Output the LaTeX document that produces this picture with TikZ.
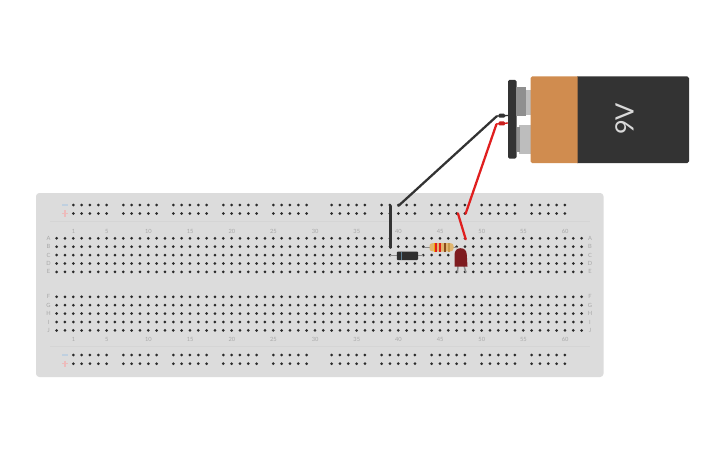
\documentclass[tikz,border=0pt]{standalone}
\usepackage{fontspec}
\setmainfont{Lato}
\definecolor{board}{HTML}{DCDCDC}
\definecolor{sepline}{HTML}{D5D5D5}
\definecolor{hole}{HTML}{2A2A2A}
\definecolor{lab}{HTML}{A8A8A8}
\definecolor{wireblk}{HTML}{333333}
\definecolor{wirered}{HTML}{E01F1F}
\definecolor{batt}{HTML}{333333}
\definecolor{orangeb}{HTML}{D08C4F}
\definecolor{termlight}{HTML}{BDBDBD}
\definecolor{termdark}{HTML}{8F8F8F}
\definecolor{clipred}{HTML}{C9201F}
\definecolor{leadgray}{HTML}{8E8E8E}
\definecolor{diodebody}{HTML}{2F2F2F}
\definecolor{diodeband}{HTML}{5F7F93}
\definecolor{resbody}{HTML}{E0B56F}
\definecolor{resgold}{HTML}{F0A800}
\definecolor{resred}{HTML}{E3201B}
\definecolor{resbrown}{HTML}{8A4B1D}
\definecolor{restan}{HTML}{C89A4D}
\definecolor{ledred}{HTML}{7E1B1F}
\definecolor{railminus}{HTML}{BFD0E0}
\definecolor{railplus}{HTML}{EDBBBB}
\tikzset{
  holept/.style={fill=hole,draw=none},
  lbl/.style={text=lab,font=\fontsize{4.3}{5}\selectfont,inner sep=0pt},
  wirek/.style={draw=wireblk,line width=1.7pt,line cap=round},
  wirer/.style={draw=wirered,line width=1.7pt,line cap=round},
  pt/.style={inner sep=0pt,minimum size=0pt}
}
\begin{document}
\begin{tikzpicture}[x=0.75pt,y=-0.75pt]
\useasboundingbox (0,0) rectangle (725,453);
\fill[white] (0,0) rectangle (725,453);
% board
\fill[board,rounded corners=2.5pt] (36,193) rectangle (603.5,377);
\draw[sepline,line width=0.5pt] (50,221.5) -- (590,221.5);
\draw[sepline,line width=0.5pt] (50,346) -- (590,346);
% main holes
\foreach \y in {238.3,246.7,255.1,263.5,271.9,296.8,305.2,313.6,322,330.4}{
  \foreach \c in {-1,...,62}{
    \fill[holept] ({73.3+8.333*(\c-1)},\y) circle (1.5);
  }
}
% rails
\foreach \y in {205,213.5,355,363.7}{
  \foreach \s in {1,7,13,19,25,32,38,44,50,56}{
    \foreach \d in {0,...,4}{
      \fill[holept] ({73.3+8.333*(\s+\d-1)},\y) circle (1.5);
    }
  }
}
% column labels
\foreach \c in {1,5,10,15,...,60}{
  \node[lbl] at ({73.5+8.333*(\c-1)},231) {\c};
  \node[lbl] at ({73.5+8.333*(\c-1)},339.5) {\c};
}
% row labels
\foreach \t/\y in {A/238.3,B/246.7,C/255.1,D/263.5,E/271.9,F/296.8,G/305.2,H/313.6,I/322,J/330.4}{
  \node[lbl] at (48.5,\y) {\t};
  \node[lbl] at (590,\y) {\t};
}
% rail signs
\foreach \y in {205,355}{\draw[railminus,line width=0.8pt] (62,\y) -- (68,\y);}
\foreach \y in {213.5,363.7}{
  \draw[railplus,line width=0.9pt] (61.8,\y) -- (68.2,\y) (65,{\y-3.2}) -- (65,{\y+3.2});
}
% battery
\fill[batt,rounded corners=1pt] (508,80) rectangle (516.5,158.5);
\fill[termlight] (525,90) rectangle (530.5,115);
\fill[termdark] (516,87.5) rectangle (525.5,116.5);
\fill[termlight] (519,125) rectangle (531,154);
\fill[termdark] (516.5,127) rectangle (519.5,152);
\fill[batt] (577,76.5) [rounded corners=1.2pt] -- (689,76.5) -- (689,163) [sharp corners] -- (577,163) -- cycle;
\fill[orangeb] (577.5,76.5) [rounded corners=1.2pt] -- (530.5,76.5) -- (530.5,163) [sharp corners] -- (577.5,163) -- cycle;
\node[rotate=90,text=white!85!black,font=\fontsize{19}{20}\selectfont,inner sep=0pt] (label9v) at (624.5,119) {9V};
% wire end points
\node[pt] (ka) at (398.3,206) {};
\node[pt] (kb) at (497,116) {};
\node[pt] (ra) at (465.5,214) {};
\node[pt] (rb) at (496.5,124) {};
\node[pt] (rc) at (457.8,213) {};
\node[pt] (rd) at (465.8,239.5) {};
\node[pt] (va) at (390.5,205.5) {};
\node[pt] (vb) at (390.5,248) {};
\draw[wirek] (ka) -- (kb);
\draw[wirer] (ra) -- (rb);
\draw[wirer] (rc) -- (rd);
\draw[wirek] (va) -- (vb);
% battery clip leads
\draw[wireblk,line width=1pt] (497,116) -- (508,115.5);
\fill[wireblk,rounded corners=0.8pt] (498.5,113.7) rectangle (505,117.6);
\draw[wirered,line width=1pt] (496.5,124) -- (508,123);
\fill[clipred,rounded corners=0.8pt] (498.5,121.5) rectangle (505,125.5);
% diode
\draw[leadgray,line width=1.1pt] (389.5,255.5) -- (423,255.5);
\fill[diodebody,rounded corners=0.6pt] (396.8,251.7) rectangle (418,260);
\fill[diodeband] (400.5,251.7) rectangle (402.3,260);
% resistor
\draw[leadgray,line width=1.1pt] (423.5,247.3) -- (458,247.3);
\fill[resbody,rounded corners=1.8pt] (429.5,243.5) -- (435,243) -- (448,243) -- (453.5,243.5) -- (453.5,251) -- (448,251.5) -- (435,251.5) -- (429.5,251) -- cycle;
\fill[resgold] (434,243) rectangle (435.2,251.5);
\fill[resred] (435.2,243) rectangle (437,251.5);
\fill[resred] (439,243) rectangle (441,251.5);
\fill[resbrown] (443.5,243) rectangle (446,251.5);
\fill[restan] (448.2,243) rectangle (449.5,251.5);
% LED
\draw[leadgray,line width=1.1pt] (458,266) -- (457.5,272.5);
\draw[leadgray,line width=1.1pt] (464,266) -- (466,272.5);
\fill[ledred] (454.5,266.5) -- (454.5,255) .. controls (454.5,250.5) and (457,248.2) .. (460.6,248.2) .. controls (464.2,248.2) and (466.8,250.5) .. (466.8,255) -- (467.5,266.5) -- cycle;
\end{tikzpicture}
\end{document}
